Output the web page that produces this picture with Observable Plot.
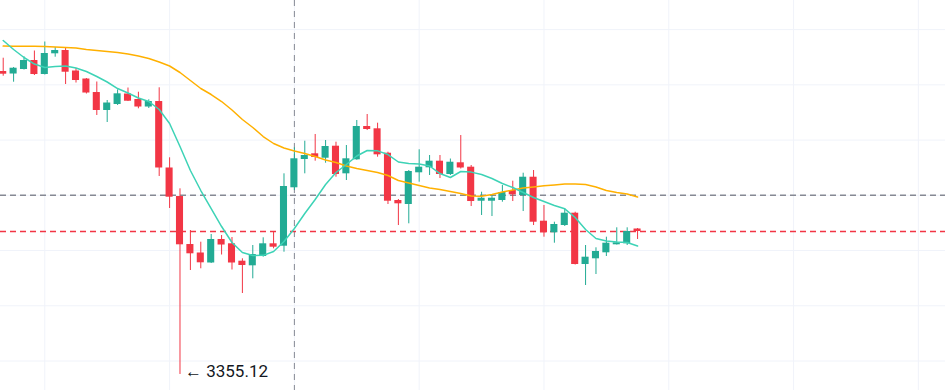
<!DOCTYPE html>
<html><head><meta charset="utf-8">
<script src="https://cdn.jsdelivr.net/npm/d3@7"></script>
<script src="https://cdn.jsdelivr.net/npm/@observablehq/plot@0.6"></script>
<style>html,body{margin:0;padding:0;background:#fff;overflow:hidden}#chart svg{display:block}</style>
</head><body><div id="chart"></div>
<script>
// candle index (bar number)
const idx = d3.range(62);
const open = [3464.83,3463.92,3465.55,3468.81,3463.74,3471.24,3472.43,3465.01,3462.11,3457.22,
3450.71,3452.88,3456.68,3454.69,3451.97,3453.96,3429.89,3419.56,3402.18,3399.11,
3395.49,3404.00,3402.44,3396.14,3394.47,3397.84,3402.44,3401.57,3422.72,3432.96,
3435.03,3433.43,3437.78,3427.78,3432.85,3444.91,3444.08,3435.24,3418.12,3416.67,
3428.15,3429.96,3432.35,3427.53,3431.77,3430.18,3417.86,3417.86,3418.12,3421.74,
3419.93,3426.55,3410.62,3406.42,3409.06,3413.52,3394.94,3397.01,3399.18,3402.08,
3402.44,3407.80];
const high = [3469.64,3466.28,3470.15,3472.25,3475.51,3473.52,3473.34,3465.91,3462.29,3461.03,
3454.33,3458.20,3458.85,3457.33,3454.58,3458.93,3433.58,3422.35,3407.25,3403.02,
3405.81,3405.44,3404.72,3397.01,3401.82,3404.61,3406.64,3427.78,3437.20,3439.59,
3442.02,3439.84,3439.23,3438.03,3447.09,3449.26,3446.11,3435.61,3418.48,3428.98,
3436.48,3434.41,3434.41,3433.14,3441.65,3430.79,3421.12,3419.93,3423.55,3425.11,
3428.00,3428.98,3416.31,3410.26,3415.11,3413.88,3401.82,3400.99,3404.83,3408.23,
3408.23,3407.98];
const low = [3463.13,3460.95,3465.37,3463.38,3463.56,3470.01,3460.12,3460.66,3456.68,3448.90,
3446.36,3452.52,3453.96,3451.32,3451.43,3426.81,3415.22,3355.12,3392.77,3393.39,
3395.30,3398.38,3392.95,3384.44,3389.76,3397.59,3400.63,3399.40,3421.74,3427.78,
3432.35,3431.62,3426.55,3425.36,3432.70,3443.46,3433.80,3416.67,3409.06,3409.68,
3424.74,3427.17,3426.08,3427.17,3429.52,3415.94,3412.69,3412.32,3417.50,3417.75,
3414.13,3409.06,3404.83,3402.66,3408.70,3394.76,3387.34,3391.32,3397.84,3402.00,
3401.82,3404.00];
const close = [3463.85,3466.02,3468.81,3463.74,3471.35,3472.43,3464.57,3461.57,3457.04,3450.71,
3453.42,3456.75,3454.07,3451.97,3453.96,3429.89,3419.31,3402.08,3398.82,3395.56,
3404.00,3402.00,3395.49,3394.58,3398.56,3402.44,3401.21,3423.19,3433.22,3434.41,
3433.69,3437.67,3427.53,3433.22,3444.91,3443.83,3434.66,3417.86,3416.92,3428.62,
3430.18,3432.35,3427.53,3431.98,3429.89,3417.75,3418.95,3418.95,3421.01,3420.18,
3426.55,3410.26,3406.42,3409.43,3413.52,3394.94,3397.59,3399.65,3402.66,3402.80,
3406.89,3406.89];
// fast moving average (teal)
const maFast = [3476.05,3472.79,3469.90,3467.54,3466.28,3466.64,3466.82,3466.10,3464.83,3463.02,
3461.03,3458.67,3457.04,3455.23,3453.96,3451.07,3446.00,3437.67,3428.98,3421.74,
3415.22,3408.70,3402.91,3399.29,3398.20,3398.25,3399.65,3403.27,3407.98,3413.41,
3418.48,3423.91,3428.26,3431.15,3434.23,3436.22,3436.10,3434.77,3432.06,3431.51,
3431.33,3430.61,3427.89,3426.45,3428.62,3428.40,3427.53,3426.08,3424.27,3422.82,
3421.01,3419.20,3417.75,3416.31,3415.11,3411.96,3407.62,3404.36,3403.45,3403.09,
3402.91,3401.64];
// slow moving average (orange)
const maSlow = [3474.02,3474.00,3473.97,3473.95,3473.88,3473.70,3473.52,3473.34,3472.79,3472.43,
3472.07,3471.71,3471.16,3470.44,3469.54,3468.27,3466.82,3464.47,3461.57,3458.67,
3456.50,3453.96,3450.89,3447.45,3444.55,3441.29,3438.76,3437.13,3436.04,3435.13,
3434.05,3432.78,3431.88,3430.61,3429.70,3428.98,3428.26,3427.17,3425.36,3424.45,
3423.55,3422.64,3422.10,3421.38,3420.65,3419.75,3419.70,3420.29,3421.19,3421.92,
3422.64,3423.01,3423.44,3423.73,3424.09,3424.05,3423.91,3423.01,3421.74,3421.01,
3420.47,3419.38];
const gridPrices = [3360,3380,3400,3420,3440,3460,3480];
const gridBars = [4,16,28,40,52,64,76,88];
const crossBar = 28;
const crossPrice = 3420;
const lastPrice = close[close.length - 1];
const lowBar = 17;
const lowPrice = 3355.12;

const up = "#22ab94", down = "#f23645";
const bars = idx.map(i => ({i, open: open[i], high: high[i], low: low[i], close: close[i], fast: maFast[i], slow: maSlow[i]}));
const ups = bars.filter(d => d.close >= d.open);
const downs = bars.filter(d => d.close < d.open);
const hw = 0.34;

const chart = Plot.plot({
  width: 945, height: 390, margin: 0,
  x: {type: "linear", domain: [-0.26, 90.61], axis: null},
  y: {domain: [3349.32, 3490.54], axis: null},
  style: {background: "#fff", fontFamily: "Roboto, sans-serif"},
  marks: [
    Plot.ruleY(gridPrices, {stroke: "#f0f3fa", strokeWidth: 1}),
    Plot.ruleX(gridBars, {stroke: "#f0f3fa", strokeWidth: 1}),
    Plot.ruleX([crossBar], {stroke: "#868993", strokeDasharray: "6,5", strokeWidth: 1}),
    Plot.ruleY([crossPrice], {stroke: "#868993", strokeDasharray: "6,4", strokeWidth: 1.6}),
    Plot.ruleY([lastPrice], {stroke: down, strokeDasharray: "6,4", strokeWidth: 1.6}),
    Plot.ruleX(ups, {x: "i", y1: "low", y2: "high", stroke: up, strokeWidth: 1}),
    Plot.ruleX(downs, {x: "i", y1: "low", y2: "high", stroke: down, strokeWidth: 1}),
    Plot.rect(ups, {x1: d => d.i - hw, x2: d => d.i + hw, y1: "open", y2: "close", fill: up}),
    Plot.rect(downs, {x1: d => d.i - hw, x2: d => d.i + hw, y1: "open", y2: "close", fill: down}),
    Plot.line(bars, {x: "i", y: "slow", stroke: "#ffb000", strokeWidth: 1.5}),
    Plot.line(bars, {x: "i", y: "fast", stroke: "#3dd3b6", strokeWidth: 1.5}),
    Plot.text([{i: lowBar, v: lowPrice}], {x: "i", y: "v", text: d => "\u2190 " + d.v.toFixed(2),
      textAnchor: "start", dx: 5, dy: -3, fontSize: 17, fill: "#131722"})
  ]
});
document.getElementById("chart").append(chart);
</script>
</body></html>
